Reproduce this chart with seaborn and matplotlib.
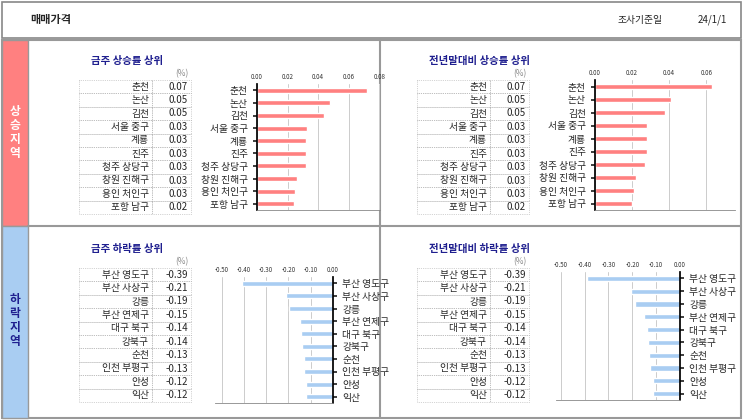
import matplotlib
matplotlib.use("Agg")
import matplotlib.pyplot as plt
import seaborn as sns
import pandas as pd
from matplotlib.patches import Rectangle

sns.set_theme(style="white")
plt.rcParams['font.family'] = ['Noto Sans CJK KR', 'DejaVu Sans']
plt.rcParams['axes.unicode_minus'] = False

W, H = 743, 420

# 데이터
up_names = ['춘천', '논산', '김천', '서울 중구', '계룡', '진주', '청주 상당구', '창원 진해구', '용인 처인구', '포항 남구']
up_week_tbl = ['0.07', '0.05', '0.05', '0.03', '0.03', '0.03', '0.03', '0.03', '0.03', '0.02']
up_week_bar = [0.072, 0.048, 0.044, 0.033, 0.032, 0.032, 0.032, 0.026, 0.025, 0.024]
up_year_tbl = ['0.07', '0.05', '0.05', '0.03', '0.03', '0.03', '0.03', '0.03', '0.03', '0.02']
up_year_bar = [0.063, 0.041, 0.0375, 0.028, 0.028, 0.028, 0.027, 0.022, 0.021, 0.020]
dn_names = ['부산 영도구', '부산 사상구', '강릉', '부산 연제구', '대구 북구', '강북구', '순천', '인천 부평구', '안성', '익산']
dn_week_tbl = ['-0.39', '-0.21', '-0.19', '-0.15', '-0.14', '-0.14', '-0.13', '-0.13', '-0.12', '-0.12']
dn_week_bar = [-0.41, -0.21, -0.197, -0.15, -0.145, -0.14, -0.13, -0.13, -0.12, -0.12]
dn_year_tbl = dn_week_tbl
dn_year_bar = [-0.39, -0.205, -0.19, -0.15, -0.14, -0.135, -0.13, -0.125, -0.115, -0.115]
dn_ticks = [-0.5, -0.4, -0.3, -0.2, -0.1, 0]

RED = '#ff8080'
BLUE = '#a9cdf2'
NAVY = '#1f1f8f'

fig = plt.figure(figsize=(W / 100, H / 100), dpi=100)
bg = fig.add_axes([0, 0, 1, 1])
bg.set_xlim(0, W)
bg.set_ylim(H, 0)
bg.axis('off')


def box(x, y, w, h, **kw):
    bg.add_patch(Rectangle((x, y), w, h, **kw))


# 헤더
box(2, 2, W - 4, 36, fill=False, ec='#888888', lw=1.2)
bg.text(30, 20, '매매가격', fontsize=8, fontweight='bold', va='center')
bg.text(640, 20, '조사기준일', fontsize=7, va='center', ha='center')
bg.text(712, 20, '24/1/1', fontsize=7, va='center', ha='center')
# 외곽
box(2, 40, W - 4, 378, fill=False, ec='#999999', lw=1.5)
box(2, 40, 26, 186, fc=RED, ec='#999999', lw=1)
box(2, 226, 26, 192, fc=BLUE, ec='#999999', lw=1)
bg.plot([28, W - 2], [226, 226], color='#999999', lw=1.5)
bg.plot([380, 380], [40, 418], color='#999999', lw=1.5)
for i, ch in enumerate('상승지역'):
    bg.text(15, 112 + i * 14, ch, color='white', fontsize=8.5, fontweight='bold', ha='center', va='center')
for i, ch in enumerate('하락지역'):
    bg.text(15, 299 + i * 14, ch, color=NAVY, fontsize=8.5, fontweight='bold', ha='center', va='center')


def table(x, y, names, vals, title, wname=73, wval=39, rowh=13.4):
    bg.text(x + 12, y - 19, title, color=NAVY, fontsize=7.5, fontweight='bold', va='center')
    bg.text(x + wname + wval - 2, y - 6, '(%)', color='#888888', fontsize=6, ha='right', va='center')
    for i, (n, v) in enumerate(zip(names, vals)):
        yy = y + i * rowh
        box(x, yy, wname, rowh, fill=False, ec='#aaaaaa', lw=0.5, ls=':')
        box(x + wname, yy, wval, rowh, fill=False, ec='#aaaaaa', lw=0.5, ls=':')
        bg.text(x + wname - 3, yy + rowh / 2, n, fontsize=7, ha='right', va='center')
        bg.text(x + wname + wval - 3, yy + rowh / 2, v, fontsize=7, ha='right', va='center')


def chart(rect, names, vals, color, xlim, ticks, right=False):
    x0, y0, w, h = rect
    ax = fig.add_axes([x0 / W, 1 - (y0 + h) / H, w / W, h / H])
    df = pd.DataFrame({'name': names, 'val': vals})
    sns.barplot(data=df, x='val', y='name', color=color, width=0.4, ax=ax, saturation=1)
    ax.set_xlim(*xlim)
    ax.set_xticks(ticks)
    ax.set_xticklabels([f'{t:.2f}' for t in ticks], fontsize=4.5, color='#333333')
    ax.xaxis.tick_top()
    ax.tick_params(axis='x', length=0, pad=2)
    ax.tick_params(axis='y', labelsize=7, length=3, direction='out', left=not right, right=right)
    if right:
        ax.yaxis.tick_right()
    ax.set_xlabel('')
    ax.set_ylabel('')
    ax.grid(axis='x', color='#cccccc', lw=0.7)
    ax.set_axisbelow(True)
    for s in ax.spines.values():
        s.set_visible(False)
    side = 'right' if right else 'left'
    ax.spines[side].set_visible(True)
    ax.spines[side].set_color('black')
    ax.spines['bottom'].set_visible(True)
    ax.spines['bottom'].set_color('#888888')
    ax.spines['bottom'].set_linewidth(0.6)
    return ax


table(79, 80, up_names, up_week_tbl, '금주 상승률 상위')
chart((257, 84, 123, 126), up_names, up_week_bar, RED, (0, 0.0805), [0, 0.02, 0.04, 0.06, 0.08])
table(417, 80, up_names, up_year_tbl, '전년말대비 상승률 상위')
chart((595, 80, 140, 130), up_names, up_year_bar, RED, (0, 0.0755), [0, 0.02, 0.04, 0.06])
table(79, 268, dn_names, dn_week_tbl, '금주 하락률 상위')
chart((215, 277, 118, 126), dn_names, dn_week_bar, BLUE, (-0.53, 0), dn_ticks, right=True)
table(417, 268, dn_names, dn_year_tbl, '전년말대비 하락률 상위')
chart((556, 272, 124, 128), dn_names, dn_year_bar, BLUE, (-0.52, 0), dn_ticks, right=True)

fig.savefig('out.png', dpi=100)
